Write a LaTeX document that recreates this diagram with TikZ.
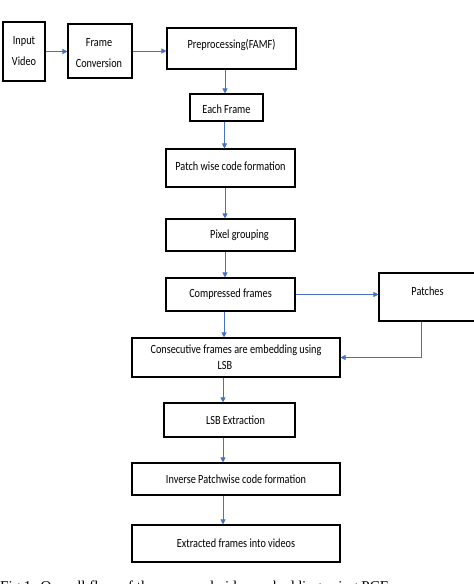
\documentclass[tikz,border=0pt]{standalone}
\usepackage{fontspec}
\newfontfamily\boxfont[FakeStretch=0.82]{Carlito}
\setmainfont{Liberation Serif}
\usetikzlibrary{arrows.meta}
\definecolor{arrowblue}{RGB}{68,114,196}
\tikzset{
  box/.style={draw=black,line width=1.1pt,fill=white,inner sep=0pt,
    minimum width=#1},
  lbl/.style={font=\boxfont\fontsize{12.5}{21}\selectfont,inner sep=0pt,align=center},
  flow/.style={draw=arrowblue,line width=0.9pt,-{Triangle[length=5pt,width=5pt]}}
}
\begin{document}
\begin{tikzpicture}[x=1pt,y=-1pt]
\clip (0,0) rectangle (474,584);
\fill[white] (0,0) rectangle (474,584);
\node[box=42pt,minimum height=59pt,label={[lbl]center:Input\\Video}] (inp) at (24,51.5) {};
\node[box=64pt,minimum height=54pt,label={[lbl,xshift=-1pt,yshift=-2pt]center:Frame\\Conversion}] (frm) at (100,51) {};
\node[box=129pt,minimum height=41pt,label={[lbl,yshift=3pt]center:Preprocessing(FAMF)}] (pre) at (231.5,48.5) {};
\node[box=73pt,minimum height=27pt,label={[lbl,yshift=-2pt]center:Each Frame}] (each) at (226.5,107.5) {};
\node[box=129pt,minimum height=38pt,label={[lbl,yshift=2pt]center:Patch wise code formation}] (patch) at (230.5,168) {};
\node[box=129pt,minimum height=32pt,label={[lbl,xshift=9pt]center:Pixel grouping}] (pix) at (230.5,235) {};
\node[box=129pt,minimum height=33pt,label={[lbl]center:Compressed frames}] (comp) at (230.5,294.5) {};
\node[box=97pt,minimum height=48pt,label={[lbl,yshift=6pt]center:Patches}] (pat) at (427.5,297) {};
\node[box=208pt,minimum height=39pt,label={[lbl,align=left,font=\boxfont\fontsize{12.5}{16}\selectfont]center:Consecutive frames are embedding using\\\hspace*{67pt}LSB}] (cons) at (236,357.5) {};
\node[box=131pt,minimum height=34pt,label={[lbl,xshift=6pt]center:LSB Extraction}] (lsb) at (229.5,420) {};
\node[box=208pt,minimum height=32pt,label={[lbl]center:Inverse Patchwise code formation}] (inv) at (236,479) {};
\node[box=208pt,minimum height=37pt,label={[lbl]center:Extracted frames into videos}] (ext) at (236,543.5) {};
\node[anchor=base west,inner sep=0pt,font=\fontsize{15}{18}\selectfont] (cap) at (0,591) {Fig.1: Overall flow of the proposed video embedding using PCF};
\draw[flow] (inp.east) -- (inp.east -| frm.west);
\draw[flow] (frm.east) -- (frm.east -| pre.west);
\draw[flow] ([xshift=-6.5pt]pre.south) -- ([xshift=-6.5pt]pre.south |- each.north);
\draw[flow] ([xshift=-2pt]each.south) -- ([xshift=-2pt]each.south |- patch.north);
\draw[flow] ([xshift=-5.5pt]patch.south) -- ([xshift=-5.5pt]pix.north);
\draw[flow] ([xshift=-5.5pt]pix.south) -- ([xshift=-5.5pt]comp.north);
\draw[flow] ([xshift=-6.5pt]comp.south) -- ([xshift=-6.5pt]comp.south |- cons.north);
\draw[flow] (comp.east) -- (comp.east -| pat.west);
\draw[flow] ([xshift=-6.5pt]pat.south) |- (cons.east);
\draw[flow] ([xshift=-13pt]cons.south) -- ([xshift=-13pt]cons.south |- lsb.north);
\draw[flow] ([xshift=-6.5pt]lsb.south) -- ([xshift=-6.5pt]lsb.south |- inv.north);
\draw[flow] ([xshift=-13pt]inv.south) -- ([xshift=-13pt]ext.north);
\end{tikzpicture}
\end{document}
